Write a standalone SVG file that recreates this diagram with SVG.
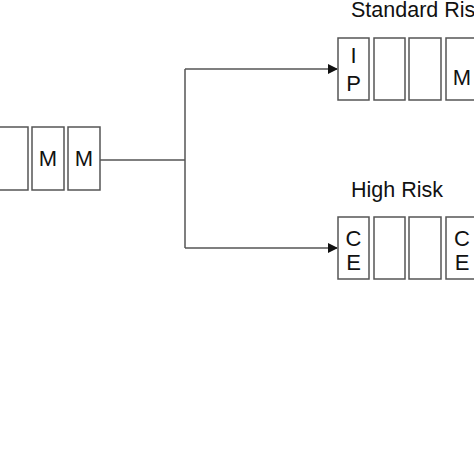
<svg xmlns="http://www.w3.org/2000/svg" width="474" height="474" viewBox="0 0 474 474">
<style>
.b{fill:#fff;stroke:#555;stroke-width:1.5}
.t{font-family:"Liberation Sans",Arial,sans-serif;font-size:22px;fill:#111;text-anchor:middle}
.h{font-family:"Liberation Sans",Arial,sans-serif;font-size:21.5px;fill:#111}
.c{fill:none;stroke:#555;stroke-width:1.5}
</style>
<defs>
<marker id="a" markerWidth="10" markerHeight="10" refX="9" refY="5" orient="auto" markerUnits="userSpaceOnUse">
<path d="M0,0 L10,5 L0,10 z" fill="#111"/>
</marker>
</defs>
<rect width="474" height="474" fill="#fff"/>
<g id="source">
<rect class="b" x="-5" y="127" width="33" height="63"/>
<rect class="b" x="32" y="127" width="32" height="63"/>
<text class="t" x="48" y="166">M</text>
<rect class="b" x="68" y="127" width="32" height="63"/>
<text class="t" x="84" y="166">M</text>
</g>
<g id="connectors">
<path class="c" d="M100,160 H185"/>
<path class="c" d="M185,69 V248"/>
<path class="c" d="M185,69 H337" marker-end="url(#a)"/>
<path class="c" d="M185,248 H337" marker-end="url(#a)"/>
</g>
<g id="standard">
<text class="h" x="351" y="17">Standard Risk</text>
<rect class="b" x="338" y="38" width="31" height="62"/>
<text class="t" x="353.5" y="63">I</text>
<text class="t" x="353.5" y="91">P</text>
<rect class="b" x="374" y="38" width="31" height="62"/>
<rect class="b" x="409" y="38" width="32" height="62"/>
<rect class="b" x="446" y="38" width="33" height="62"/>
<text class="t" x="462" y="85">M</text>
</g>
<g id="high">
<text class="h" x="351" y="197">High Risk</text>
<rect class="b" x="338" y="217" width="31" height="62"/>
<text class="t" x="353.5" y="246">C</text>
<text class="t" x="353.5" y="270">E</text>
<rect class="b" x="374" y="217" width="31" height="62"/>
<rect class="b" x="409" y="217" width="32" height="62"/>
<rect class="b" x="446" y="217" width="33" height="62"/>
<text class="t" x="462" y="246">C</text>
<text class="t" x="462" y="270">E</text>
</g>
</svg>
